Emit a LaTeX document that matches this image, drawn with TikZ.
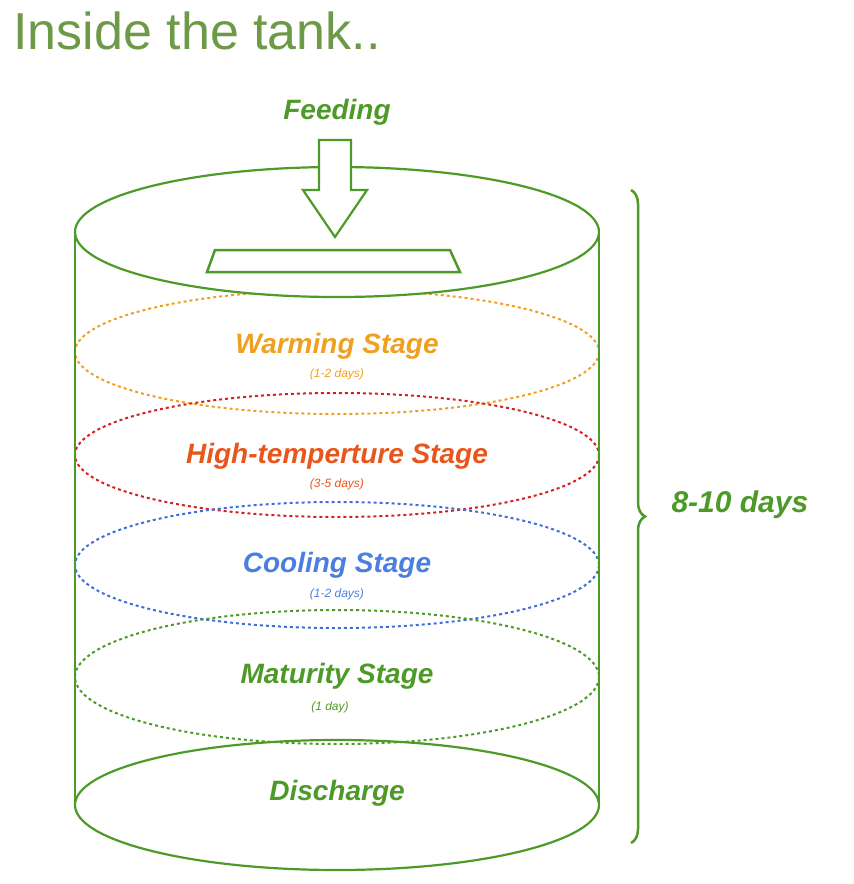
\documentclass[tikz,border=0pt]{standalone}
\usepackage{fontspec}
\setmainfont{Liberation Sans}
\usetikzlibrary{decorations.pathreplacing}
\definecolor{gr}{HTML}{4E9A28}
\definecolor{tt}{HTML}{6E9A48}
\definecolor{orn}{HTML}{F0A020}
\definecolor{rd}{HTML}{D42020}
\definecolor{rdt}{HTML}{E8561C}
\definecolor{bl}{HTML}{3E6FD8}
\definecolor{blt}{HTML}{4A7EE0}
\begin{document}
\begin{tikzpicture}[x=1pt,y=-1pt,
 lbl/.style={font=\fontsize{28}{30}\selectfont\bfseries\itshape},
 sm/.style={font=\fontsize{12}{13}\selectfont\itshape},
 dl/.style={dash pattern=on 3pt off 3pt, line width=2pt}]
\useasboundingbox (0,0) rectangle (854,884);
\node[anchor=west,text=tt,font=\fontsize{52}{54}\selectfont] (title) at (10,31) {Inside the tank..};
% dotted ellipses
\draw[dl,orn] (337,352) ellipse [x radius=262,y radius=62];
\draw[dl,rd] (337,455) ellipse [x radius=262,y radius=62];
\draw[dl,bl] (337,565) ellipse [x radius=262,y radius=63];
\draw[dl,gr] (337,677) ellipse [x radius=262,y radius=67];
% cylinder
\draw[gr,line width=2.2pt,fill=white] (337,232) ellipse [x radius=262,y radius=65];
\draw[gr,line width=2.2pt] (337,805) ellipse [x radius=262,y radius=65];
\draw[gr,line width=2.2pt] (75,232) -- (75,805) (599,232) -- (599,805);
\draw[gr,line width=2.5pt] (215,250) -- (450,250) -- (460,272) -- (207,272) -- cycle;
\draw[gr,line width=2.2pt,fill=white] (319,140) -- (351,140) -- (351,190) -- (367,190) -- (335,237) -- (303,190) -- (319,190) -- cycle;
\node[lbl,text=gr] (feed) at (337,112) {Feeding};
\node[lbl,text=orn] (w) at (337,346) {Warming Stage};
\node[sm,text=orn] at (337,374) {(1-2 days)};
\node[lbl,text=rdt] (h) at (337,456) {High-temperture Stage};
\node[sm,text=rdt] at (337,484) {(3-5 days)};
\node[lbl,text=blt] (c) at (337,565) {Cooling Stage};
\node[sm,text=blt] at (337,594) {(1-2 days)};
\node[lbl,text=gr] (m) at (337,676) {Maturity Stage};
\node[sm,text=gr] at (330,707) {(1 day)};
\node[lbl,text=gr] (d) at (337,793) {Discharge};
\draw[gr,line width=2.5pt,decorate,decoration={brace,amplitude=14pt}] (631,190) -- (631,843);
\node[font=\fontsize{30}{32}\selectfont\bfseries\itshape,text=gr,anchor=west] (days) at (668,505) {8-10 days};
\end{tikzpicture}
\end{document}
